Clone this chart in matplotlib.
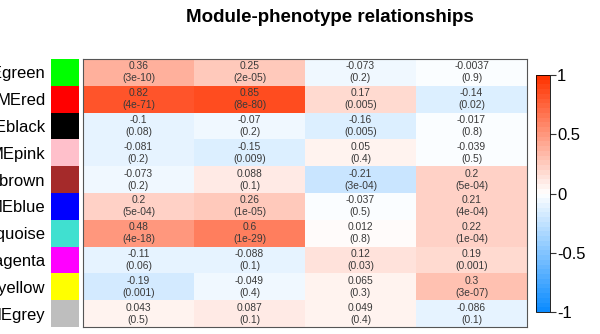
import numpy as np
import matplotlib
matplotlib.use("Agg")
import matplotlib.pyplot as plt
from matplotlib.colors import LinearSegmentedColormap, ListedColormap

plt.rcParams["font.family"] = ["Liberation Sans", "DejaVu Sans"]

# module eigengenes (rows) and their colours
modules = ["MEgreen", "MEred", "MEblack", "MEpink", "MEbrown", "MEblue",
           "MEturquoise", "MEmagenta", "MEyellow", "MEgrey"]
module_colors = ["#00FF00", "#FF0000", "#000000", "#FFC0CB", "#A52A2A",
                 "#0000FF", "#40E0D0", "#FF00FF", "#FFFF00", "#BEBEBE"]

# correlation per trait column
trait1 = [0.36, 0.82, -0.1, -0.081, -0.073, 0.2, 0.48, -0.11, -0.19, 0.043]
trait2 = [0.25, 0.85, -0.07, -0.15, 0.088, 0.26, 0.6, -0.088, -0.049, 0.087]
trait3 = [-0.073, 0.17, -0.16, 0.05, -0.21, -0.037, 0.012, 0.12, 0.065, 0.049]
trait4 = [-0.0037, -0.14, -0.017, -0.039, 0.2, 0.21, 0.22, 0.19, 0.3, -0.086]

# p-values as printed
p1 = ["3e-10", "4e-71", "0.08", "0.2", "0.2", "5e-04", "4e-18", "0.06", "0.001", "0.5"]
p2 = ["2e-05", "8e-80", "0.2", "0.009", "0.1", "1e-05", "1e-29", "0.1", "0.4", "0.1"]
p3 = ["0.2", "0.005", "0.005", "0.4", "3e-04", "0.5", "0.8", "0.03", "0.3", "0.4"]
p4 = ["0.9", "0.02", "0.8", "0.5", "5e-04", "4e-04", "1e-04", "0.001", "3e-07", "0.1"]

cor = np.array([trait1, trait2, trait3, trait4]).T
pvals = np.array([p1, p2, p3, p4]).T

# WGCNA-style blueWhiteRed
bwr = LinearSegmentedColormap.from_list(
    "bwr_wgcna", [(0.05, 0.55, 1.0), (1.0, 1.0, 1.0), (1.0, 0.2, 0.0)], N=50)

W, H = 600, 334
fig = plt.figure(figsize=(W / 100, H / 100), dpi=100)

def px_axes(x0, y0, x1, y1):
    return fig.add_axes([x0 / W, 1 - y1 / H, (x1 - x0) / W, (y1 - y0) / H])

ax = px_axes(83, 59, 527, 327)
nr, nc = cor.shape
mesh = ax.pcolormesh(cor, cmap=bwr, vmin=-1, vmax=1)
ax.set_xlim(0, nc)
ax.set_ylim(nr, 0)
ax.set_xticks([])
ax.set_yticks([])
for s in ax.spines.values():
    s.set_color("#555555")
    s.set_linewidth(0.8)
for i in range(nr):
    for j in range(nc):
        ax.text(j + 0.5, i + 0.5, f"{cor[i, j]:g}\n({pvals[i, j]})",
                ha="center", va="center", fontsize=7.4, color="#3a3a3a",
                linespacing=1.25)

# colour swatches with module labels (left part runs off the figure, as in the original)
sax = px_axes(51, 59, 79, 327)
sax.pcolormesh(np.arange(nr).reshape(-1, 1), cmap=ListedColormap(module_colors),
               vmin=-0.5, vmax=nr - 0.5)
sax.set_ylim(nr, 0)
sax.set_xticks([])
sax.set_yticks(np.arange(nr) + 0.5)
sax.set_yticklabels(modules, fontsize=12)
sax.tick_params(axis="y", length=0, pad=4)
for s in sax.spines.values():
    s.set_visible(False)

# colorbar
cax = px_axes(536, 75, 550, 312)
cb = fig.colorbar(mesh, cax=cax, ticks=[-1, -0.5, 0, 0.5, 1])
cb.ax.set_yticklabels(["-1", "-0.5", "0", "0.5", "1"])
cb.ax.tick_params(labelsize=12, length=4, width=0.8, color="#333333", pad=1)
cb.outline.set_linewidth(0.6)

fig.text(330 / W, 1 - 18 / H, "Module-phenotype relationships",
         ha="center", va="center", fontsize=13.5, fontweight="bold")

fig.savefig("out.png", dpi=100, facecolor="white")
